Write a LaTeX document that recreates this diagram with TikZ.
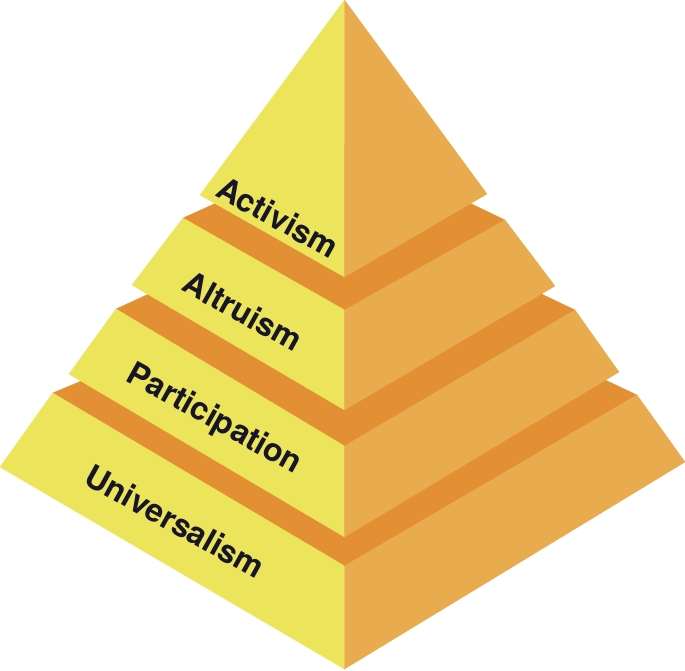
\documentclass[tikz,border=0pt]{standalone}
\usepackage{fontspec}
\setmainfont{TeX Gyre Heros}
\definecolor{yface}{RGB}{236,228,90}
\definecolor{tface}{RGB}{232,171,78}
\definecolor{oband}{RGB}{227,144,53}
\definecolor{ink}{RGB}{22,22,40}
\begin{document}
\begin{tikzpicture}[x=1pt,y=-1pt,
  lface/.style={fill=yface,draw=yface,line width=0.3pt,line join=round},
  rface/.style={fill=tface,draw=tface,line width=0.3pt,line join=round},
  band/.style={fill=oband,draw=oband,line width=0.3pt,line join=round},
  lbl/.style={font=\bfseries\fontsize{32}{36}\selectfont,text=ink,rotate=-29,inner sep=0pt}]
\useasboundingbox (0,0) rectangle (685,671);
% apex and top pyramid
\coordinate (A) at (344.5,0);
\coordinate (L1b) at (200,195);
\coordinate (F1b) at (344.5,277);
\coordinate (R1b) at (487,194);
% slab 2
\coordinate (L2t) at (183,218);
\coordinate (F2t) at (344.5,310);
\coordinate (R2t) at (505,220);
\coordinate (B2) at (347,144);
\coordinate (L2b) at (132,285);
\coordinate (F2b) at (344.5,410);
\coordinate (R2b) at (555,286);
% slab 3
\coordinate (L3t) at (116,309);
\coordinate (F3t) at (344.5,446);
\coordinate (R3t) at (575,310);
\coordinate (B3) at (349,202);
\coordinate (L3b) at (69,374);
\coordinate (F3b) at (344.5,537);
\coordinate (R3b) at (619,372);
% slab 4
\coordinate (L4t) at (52.7,393);
\coordinate (F4t) at (344.5,566);
\coordinate (R4t) at (637,395);
\coordinate (B4) at (359,264);
\coordinate (L4b) at (0,467);
\coordinate (F4b) at (344.5,669);
\coordinate (R4b) at (685,462);
% slab 4 (bottom)
\path[band] (L4t) -- (B4) -- (R4t) -- (F4t) -- cycle;
\path[lface] (L4t) -- (F4t) -- (F4b) -- (L4b) -- cycle;
\path[rface] (F4t) -- (R4t) -- (R4b) -- (F4b) -- cycle;
% slab 3
\path[band] (L3t) -- (B3) -- (R3t) -- (F3t) -- cycle;
\path[lface] (L3t) -- (F3t) -- (F3b) -- (L3b) -- cycle;
\path[rface] (F3t) -- (R3t) -- (R3b) -- (F3b) -- cycle;
% slab 2
\path[band] (L2t) -- (B2) -- (R2t) -- (F2t) -- cycle;
\path[lface] (L2t) -- (F2t) -- (F2b) -- (L2b) -- cycle;
\path[rface] (F2t) -- (R2t) -- (R2b) -- (F2b) -- cycle;
% top pyramid
\path[lface] (A) -- (F1b) -- (L1b) -- cycle;
\path[rface] (A) -- (R1b) -- (F1b) -- cycle;
% labels
\node[lbl] (activism) at (278,217) {Activism};
\node[lbl] (altruism) at (243,311) {Altruism};
\node[lbl] (participation) at (214,420) {Participation};
\node[lbl] (universalism) at (175,521) {Universalism};
\end{tikzpicture}
\end{document}
